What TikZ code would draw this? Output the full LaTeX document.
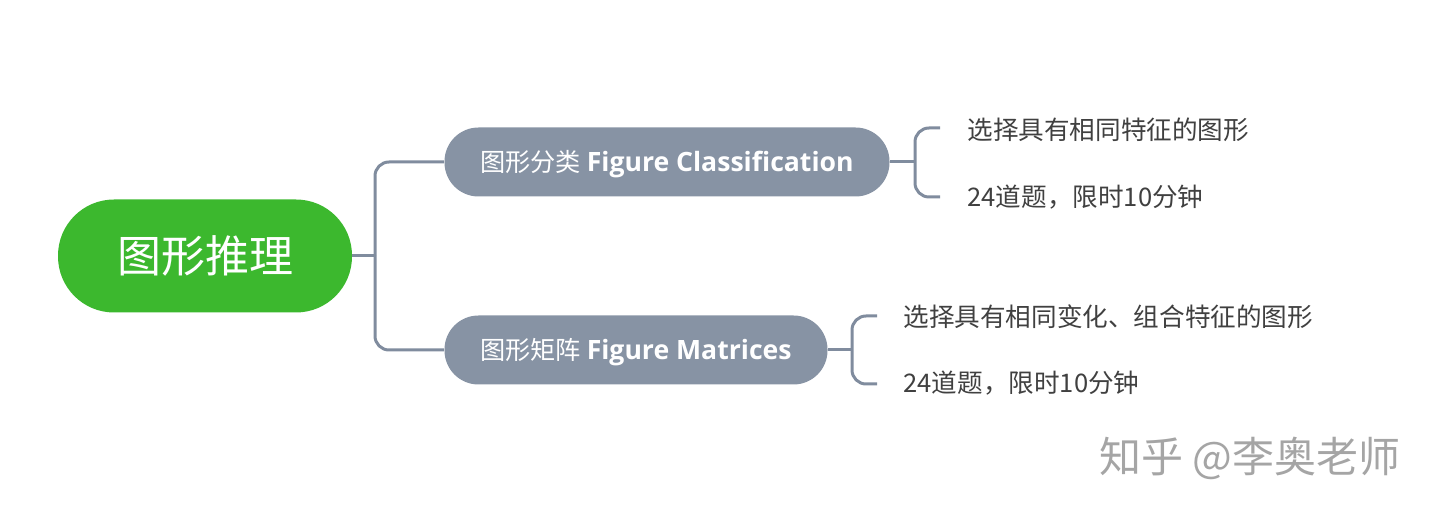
\documentclass[tikz,border=0pt]{standalone}
\usepackage{fontspec}
\setmainfont{Noto Sans CJK SC}
\newfontfamily\latinfont{Open Sans}
\usetikzlibrary{positioning}

\definecolor{rootgreen}{RGB}{60,184,46}
\definecolor{branchgray}{RGB}{135,147,164}
\definecolor{linegray}{RGB}{128,140,158}
\definecolor{leaftext}{RGB}{64,64,64}
\definecolor{signgray}{RGB}{165,165,165}

\newcommand{\eng}[1]{{\latinfont\bfseries\fontsize{13.3}{15}\selectfont #1}}

\tikzset{
  rootnode/.style={fill=rootgreen, text=white, rounded corners=28pt, minimum width=147pt, minimum height=56.5pt, font=\fontsize{22}{26}\selectfont},
  branchnode/.style={fill=branchgray, text=white, rounded corners=17pt, minimum height=34.5pt, text height=12pt, text depth=2.5pt, font=\fontsize{12.6}{15}\selectfont},
  leafnode/.style={anchor=west, text=leaftext, inner sep=0pt, font=\fontsize{12.8}{15}\selectfont},
  conn/.style={draw=linegray, line width=1.5pt, rounded corners=7pt},
}

\begin{document}
\begin{tikzpicture}[x=0.5pt, y=-0.5pt]
\useasboundingbox (0,0) rectangle (1440,517);

\node [rootnode] (root) at (205,256) {图形推理};
\node [branchnode, minimum width=222.5pt] (class) at (667,162) {图形分类 \eng{Figure Classification}};
\node [branchnode, minimum width=191.5pt] (matrix) at (636,350) {图形矩阵 \eng{Figure Matrices}};

\node [leafnode] (classA) at (967,130) {选择具有相同特征的图形};
\node [leafnode] (classB) at (967,197) {24道题，限时10分钟};
\node [leafnode] (matrixA) at (903,317) {选择具有相同变化、组合特征的图形};
\node [leafnode] (matrixB) at (903,383) {24道题，限时10分钟};

\node [text=signgray, font=\fontsize{21}{25}\selectfont] (sign) at (1250,458) {知乎 @李奥老师};

% trunk from the root
\coordinate (hub) at (375,256);
\draw [conn] (root.east) -- (hub);
\draw [conn] (hub) |- (class.west);
\draw [conn] (hub) |- (matrix.west);

% brackets
\coordinate (classK) at (915,162);
\coordinate (classT) at (940,128);
\coordinate (classU) at (940,197);
\draw [conn] (class.east) -- (classK);
\draw [conn] (classT) -| (classK) |- (classU);

\coordinate (matrixK) at (852,350);
\coordinate (matrixT) at (877,316);
\coordinate (matrixU) at (877,384);
\draw [conn] (matrix.east) -- (matrixK);
\draw [conn] (matrixT) -| (matrixK) |- (matrixU);
\end{tikzpicture}
\end{document}
